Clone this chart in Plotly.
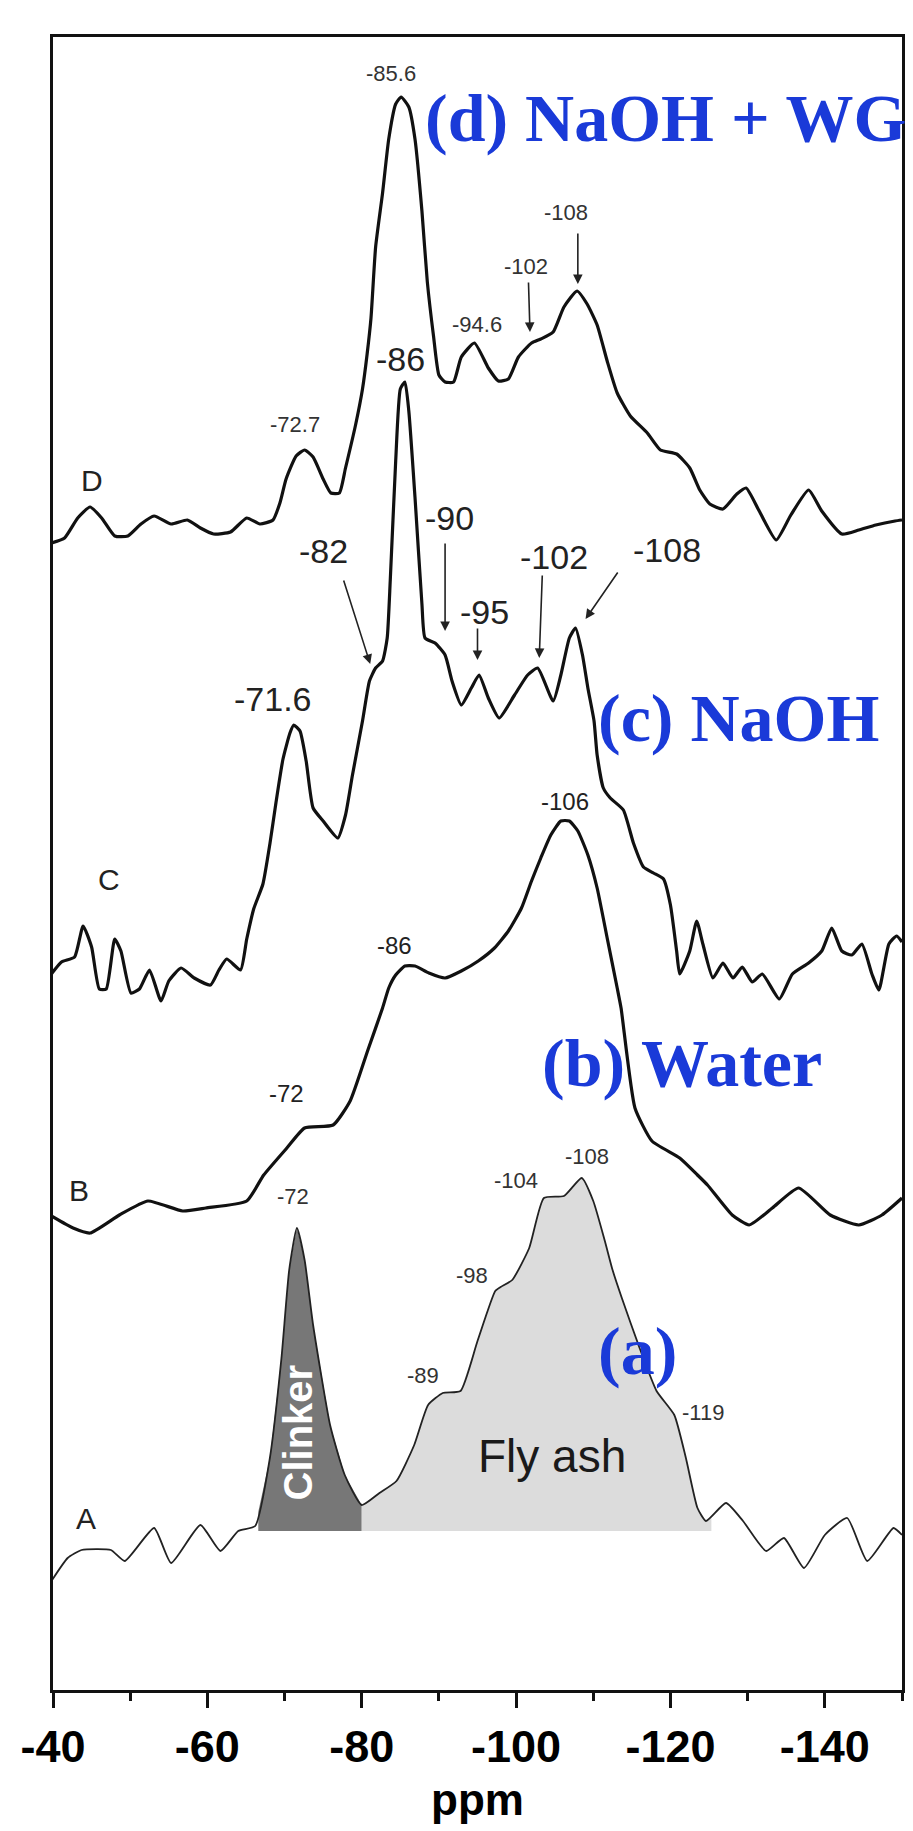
import numpy as np
import plotly.graph_objects as go

# ---------------- data (chemical shift in ppm, intensity in arbitrary units, stacked) -------------
ppm_D = [-39.8, -41.5, -43.2, -44.8, -46.3, -48.0, -49.7, -51.4, -53.1, -55.3, -57.4, -59.1, -60.8,
         -63.0, -65.1, -66.8, -68.5, -69.4, -70.2, -71.5, -72.6, -73.7, -75.0, -76.0, -77.1, -77.9,
         -79.2, -80.1, -80.7, -81.2, -81.8, -82.7, -83.5, -84.4, -85.1, -86.1, -86.9, -87.8, -88.5,
         -89.3, -90.0, -90.8, -91.9, -92.9, -94.6, -96.4, -97.7, -99.0, -100.3, -102.0, -103.2,
         -104.8, -106.2, -107.9, -109.2, -110.5, -111.8, -113.1, -114.8, -117.0, -118.7, -120.8,
         -122.5, -123.8, -125.1, -126.8, -128.6, -129.8, -131.5, -133.7, -135.6, -137.9, -139.6,
         -142.2, -144.4, -146.6, -149.1, -150.0]
int_D = [1147, 1152, 1172, 1183, 1172, 1154, 1154, 1166, 1174, 1166, 1170, 1162, 1156,
         1158, 1172, 1166, 1170, 1187, 1211, 1234, 1240, 1233, 1211, 1197, 1197, 1222,
         1265, 1301, 1336, 1372, 1443, 1497, 1551, 1586, 1593, 1583, 1551, 1479, 1408,
         1354, 1315, 1308, 1308, 1333, 1347, 1322, 1309, 1311, 1333, 1347, 1351,
         1358, 1383, 1399, 1386, 1365, 1329, 1297, 1274, 1257, 1240, 1236,
         1222, 1200, 1186, 1181, 1196, 1202, 1179, 1150, 1175, 1200, 1179,
         1156, 1160, 1165, 1169, 1170]

ppm_C = [-39.8, -41.1, -42.8, -43.9, -45.0, -46.0, -46.9, -48.0, -48.8, -50.1, -51.2, -52.5, -54.0,
         -55.0, -56.6, -58.3, -60.4, -61.5, -62.5, -64.3, -65.1, -66.0, -67.2, -68.1, -68.9, -69.8,
         -70.7, -71.2, -72.0, -72.8, -73.7, -75.0, -76.9, -77.9, -78.8, -80.1, -81.0, -81.8, -82.7,
         -83.3, -83.7, -84.4, -85.0, -85.6, -86.1, -86.9, -87.8, -88.2, -89.5, -90.8, -91.7, -92.9,
         -94.2, -95.2, -96.4, -97.8, -99.8, -101.5, -102.8, -104.8, -105.8, -106.9, -107.7, -108.6,
         -109.3, -110.1, -110.5, -111.3, -112.2, -113.9, -115.2, -116.5, -117.8, -119.1, -120.0,
         -120.8, -121.2, -122.5, -123.4, -124.2, -125.5, -126.8, -128.1, -129.3, -130.6, -131.9,
         -134.1, -135.8, -137.9, -139.6, -140.9, -142.2, -143.5, -144.8, -146.1, -147.0, -148.3,
         -149.3, -150.0]
int_C = [716, 728, 733, 764, 743, 701, 701, 751, 739, 697, 701, 720, 689,
         709, 722, 712, 705, 720, 731, 720, 751, 781, 806, 846, 888, 931,
         957, 965, 959, 929, 882, 869, 852, 875, 915, 969, 1009, 1022, 1029,
         1052, 1110, 1229, 1301, 1308, 1279, 1193, 1086, 1052, 1047, 1035, 1009, 985,
         1002, 1015, 992, 972, 995, 1015, 1022, 989, 1015, 1052, 1062, 1035,
         1002, 969, 935, 902, 892, 880, 847, 823, 817, 811, 785,
         739, 716, 739, 769, 746, 712, 727, 712, 723, 708, 716,
         691, 716, 727, 739, 762, 739, 735, 746, 716, 700, 746,
         754, 748]

ppm_B = [-39.8, -42.6, -44.8, -48.6, -52.3, -56.8, -59.8, -65.1, -67.3, -70.3, -72.6, -76.3, -78.5,
         -80.8, -82.7, -83.5, -84.4, -85.6, -86.9, -88.7, -90.8, -92.9, -95.1, -97.2, -99.0, -100.7,
         -102.0, -103.2, -104.5, -105.8, -106.9, -108.0, -109.3, -110.5, -111.8, -113.1, -113.6,
         -115.4, -117.6, -121.2, -123.5, -124.8, -128.0, -130.2, -133.2, -136.6, -140.7, -144.4,
         -147.4, -150.0]
int_B = [474, 462, 457, 475, 489, 479, 482, 489, 515, 542, 562, 565, 589,
         640, 682, 702, 715, 724, 724, 717, 712, 719, 729, 742, 759, 782,
         809, 832, 855, 869, 869, 859, 835, 802, 752, 702, 682,
         582, 549, 532, 515, 505, 475, 465, 482, 502, 475, 465,
         475, 492]

ppm_A = [-39.8, -41.9, -43.7, -47.5, -49.3, -53.1, -55.3, -59.1, -61.7, -64.0, -66.2, -68.1, -69.6,
         -70.6, -71.6, -72.6, -73.7, -75.9, -77.8, -80.0, -82.3, -84.5, -86.8, -88.6, -90.5, -92.8,
         -95.0, -97.3, -98.0, -99.5, -101.7, -103.6, -106.2, -108.5, -110.0, -111.5, -112.5, -113.7,
         -116.0, -118.2, -120.5, -122.0, -123.5, -124.6, -127.2, -129.4, -132.4, -134.7, -137.3,
         -140.0, -142.9, -145.5, -148.9, -150.0]
int_A = [109, 132, 140, 140, 129, 162, 127, 165, 139, 159, 164, 232, 332,
         420, 462, 430, 365, 265, 215, 185, 197, 209, 245, 285, 297, 299,
         349, 399, 403, 410, 442, 492, 494, 512, 489, 449, 420, 392,
         342, 299, 275, 232, 182, 169, 187, 169, 139, 152, 122,
         155, 172, 129, 162, 155]

# shaded components of spectrum A
region_names = ["Clinker", "Fly ash"]
region_start = [-66.6, -80.0]
region_end = [-80.0, -125.3]
region_base = 159

tick_vals = [-40, -60, -80, -100, -120, -140]
tick_text = ["-40", "-60", "-80", "-100", "-120", "-140"]

# peak labels: text, ppm, intensity
labels_D = [("-85.6", -83.8, 1617), ("-108", -106.5, 1478), ("-102", -101.3, 1424),
            ("-94.6", -94.9, 1366), ("-72.7", -71.3, 1266)]
labels_C = [("-86", -85.0, 1331), ("-90", -91.4, 1172), ("-82", -75.0, 1139), ("-95", -95.9, 1078),
            ("-102", -104.9, 1133), ("-108", -119.6, 1140), ("-71.6", -68.5, 991)]
labels_B = [("-106", -106.4, 889), ("-86", -84.3, 745), ("-72", -70.3, 597)]
labels_A = [("-72", -71.1, 494), ("-104", -100.0, 510), ("-108", -109.2, 534), ("-98", -94.3, 415),
            ("-89", -87.9, 315), ("-119", -124.2, 278)]
trace_letters = [("D", -45.0, 1210), ("C", -47.3, 811), ("B", -43.4, 500), ("A", -44.3, 172)]

# arrows: (head ppm, head intensity, tail ppm, tail intensity)
arrows = [(-108.0, 1406, -108.0, 1458), (-101.8, 1358, -101.6, 1409),
          (-81.1, 1026, -77.6, 1111), (-90.8, 1059, -90.8, 1148), (-95.0, 1030, -95.0, 1063),
          (-103.0, 1032, -103.4, 1116), (-109.0, 1071, -113.3, 1119)]

# sample titles: text, ppm of left edge, intensity of centre
titles = [("(d) NaOH + WG", -88.0, 1572), ("(c) NaOH", -110.3, 972),
          ("(b) Water", -103.1, 627), ("(a)", -110.4, 339)]

# ---------------- figure -----------------------------------------------------------------------
fig = go.Figure()


def segment(xs, ys, x0, x1):
    xa = -np.array(xs, dtype=float)
    ya = np.array(ys, dtype=float)
    lo, hi = -x0, -x1
    mask = (xa > lo) & (xa < hi)
    sx = [lo] + list(xa[mask]) + [hi]
    sy = [np.interp(lo, xa, ya)] + list(ya[mask]) + [np.interp(hi, xa, ya)]
    return [-v for v in sx], sy


fill_colors = ["#777777", "#dcdcdc"]
for name, x0, x1, col in zip(region_names, region_start, region_end, fill_colors):
    sx, sy = segment(ppm_A, int_A, x0, x1)
    px = sx + [x1, x0]
    py = sy + [region_base, region_base]
    fig.add_trace(go.Scatter(x=px, y=py, mode="lines", fill="toself", fillcolor=col,
                             line=dict(width=0, color=col), hoverinfo="skip", showlegend=False))

for xs, ys, w, c in [(ppm_D, int_D, 3.2, "#111111"), (ppm_C, int_C, 3.2, "#111111"),
                     (ppm_B, int_B, 3.2, "#111111"), (ppm_A, int_A, 1.8, "#222222")]:
    fig.add_trace(go.Scatter(x=xs, y=ys, mode="lines",
                             line=dict(color=c, width=w, shape="spline", smoothing=0.5),
                             hoverinfo="skip", showlegend=False))

ann = []
for t, x, y in labels_D + labels_A:
    ann.append(dict(x=x, y=y, text=t, showarrow=False,
                    font=dict(family="Liberation Sans, Arial", size=22, color="#333333")))
for t, x, y in labels_C:
    ann.append(dict(x=x, y=y, text=t, showarrow=False,
                    font=dict(family="Liberation Sans, Arial", size=34, color="#222222")))
for t, x, y in labels_B:
    ann.append(dict(x=x, y=y, text=t, showarrow=False,
                    font=dict(family="Liberation Sans, Arial", size=24, color="#222222")))
for t, x, y in trace_letters:
    ann.append(dict(x=x, y=y, text=t, showarrow=False,
                    font=dict(family="Liberation Sans, Arial", size=30, color="#222222")))
for hx, hy, tx, ty in arrows:
    ann.append(dict(x=hx, y=hy, ax=tx, ay=ty, axref="x", ayref="y", text="", showarrow=True,
                    arrowhead=2, arrowsize=1.2, arrowwidth=1.6, arrowcolor="#222222"))
for t, x, y in titles:
    ann.append(dict(x=x, y=y, text="<b>" + t + "</b>", showarrow=False, xanchor="left",
                    font=dict(family="Liberation Serif, Times New Roman", size=68, color="#1a3ad8")))
ann.append(dict(x=-104.6, y=234, text="Fly ash", showarrow=False,
                font=dict(family="Liberation Sans, Arial", size=46, color="#1a1a1a")))
ann.append(dict(x=-71.8, y=258, text="<b>Clinker</b>", showarrow=False, textangle=-90,
                font=dict(family="Liberation Sans, Arial", size=40, color="#ffffff")))

fig.update_layout(
    width=913, height=1831,
    margin=dict(l=37, r=19, t=29, b=149),
    paper_bgcolor="white", plot_bgcolor="white",
    showlegend=False,
    annotations=ann,
    xaxis=dict(range=[-40, -150], tickvals=tick_vals, ticktext=tick_text,
               ticks="outside", ticklen=15, tickwidth=3, tickcolor="#111111",
               minor=dict(dtick=10, ticks="outside", ticklen=8, tickwidth=2.5, tickcolor="#111111"),
               showline=True, linewidth=3, linecolor="#111111", mirror=True,
               showgrid=False, zeroline=False,
               tickfont=dict(family="Liberation Sans, Arial", size=45, color="#000000", weight="bold"),
               title=dict(text="<b>ppm</b>", standoff=14,
                          font=dict(family="Liberation Sans, Arial", size=44, color="#000000"))),
    yaxis=dict(range=[0, 1653], showticklabels=False, ticks="", showgrid=False, zeroline=False,
               showline=True, linewidth=3, linecolor="#111111", mirror=True),
)

fig.write_html("out.html")
